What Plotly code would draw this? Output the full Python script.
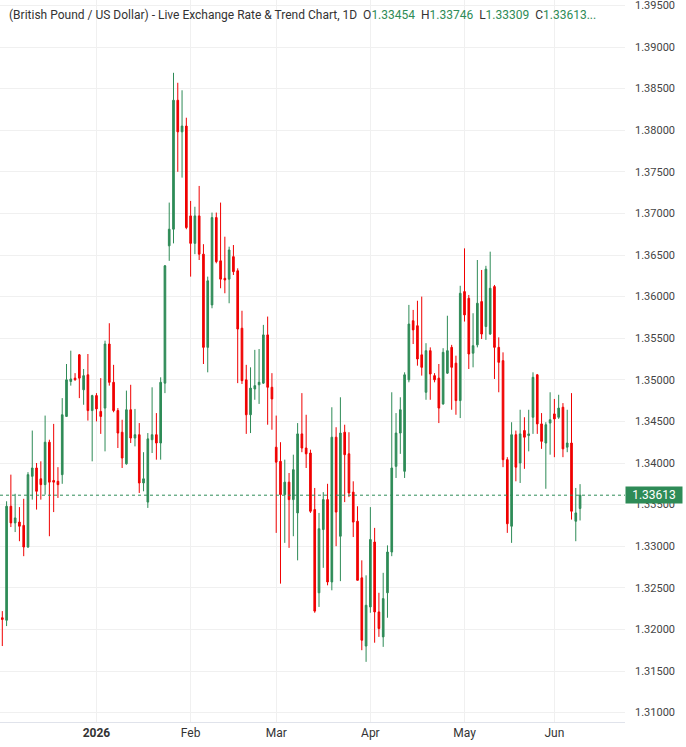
import pandas as pd
import plotly.graph_objects as go

# ---- data ----
dates = [d.strftime("%Y-%m-%d") for d in pd.bdate_range("2025-12-02", "2026-06-09")]

opens = [1.3214, 1.3211, 1.3348, 1.3328, 1.3329, 1.3325, 1.3299, 1.3384, 1.3394, 1.3381,
         1.3374, 1.3425, 1.3379, 1.3378, 1.3386, 1.3456, 1.3498, 1.3502, 1.3530, 1.3488,
         1.3506, 1.3463, 1.3481, 1.3462, 1.3466, 1.3543, 1.3497, 1.3463, 1.3437, 1.3399,
         1.3464, 1.3430, 1.3434, 1.3376, 1.3353, 1.3428, 1.3434, 1.3424, 1.3496, 1.3661,
         1.3681, 1.3836, 1.3798, 1.3805, 1.3697, 1.3664, 1.3697, 1.3651, 1.3539, 1.3590,
         1.3695, 1.3643, 1.3622, 1.3621, 1.3648, 1.3631, 1.3562, 1.3500, 1.3458, 1.3489,
         1.3494, 1.3496, 1.3554, 1.3491, 1.3419, 1.3402, 1.3362, 1.3377, 1.3356, 1.3340,
         1.3435, 1.3418, 1.3412, 1.3344, 1.3244, 1.3320, 1.3356, 1.3257, 1.3431, 1.3312,
         1.3437, 1.3411, 1.3365, 1.3330, 1.3262, 1.3180, 1.3227, 1.3305, 1.3221, 1.3191,
         1.3244, 1.3293, 1.3396, 1.3436, 1.3390, 1.3500, 1.3571, 1.3565, 1.3530, 1.3485,
         1.3535, 1.3505, 1.3502, 1.3471, 1.3508, 1.3539, 1.3520, 1.3475, 1.3606, 1.3598,
         1.3532, 1.3542, 1.3594, 1.3564, 1.3555, 1.3612, 1.3539, 1.3523, 1.3404, 1.3324,
         1.3434, 1.3400, 1.3439, 1.3433, 1.3455, 1.3506, 1.3447, 1.3424, 1.3448, 1.3459,
         1.3455, 1.3467, 1.3419, 1.3424, 1.3330, 1.33454]

highs = [1.3222, 1.3354, 1.3386, 1.3363, 1.3347, 1.3357, 1.3389, 1.3439, 1.3400, 1.3402,
         1.3457, 1.3428, 1.3447, 1.3395, 1.3478, 1.3519, 1.3535, 1.3508, 1.3531, 1.3513,
         1.3531, 1.3482, 1.3484, 1.3502, 1.3547, 1.3568, 1.3518, 1.3466, 1.3452, 1.3487,
         1.3494, 1.3465, 1.3448, 1.3413, 1.3436, 1.3491, 1.3460, 1.3503, 1.3638, 1.3713,
         1.3869, 1.3857, 1.3848, 1.3815, 1.3715, 1.3708, 1.3733, 1.3663, 1.3624, 1.3701,
         1.3701, 1.3713, 1.3672, 1.3660, 1.3662, 1.3634, 1.3583, 1.3518, 1.3515, 1.3536,
         1.3537, 1.3566, 1.3576, 1.3508, 1.3457, 1.3425, 1.3404, 1.3388, 1.3410, 1.3448,
         1.3484, 1.3458, 1.3416, 1.3370, 1.3340, 1.3365, 1.3375, 1.3467, 1.3443, 1.3479,
         1.3446, 1.3437, 1.3378, 1.3348, 1.3283, 1.3265, 1.3347, 1.3322, 1.3244, 1.3268,
         1.3301, 1.3485, 1.3460, 1.3479, 1.3509, 1.3590, 1.3584, 1.3595, 1.3600, 1.3544,
         1.3539, 1.3508, 1.3519, 1.3538, 1.3577, 1.3542, 1.3529, 1.3613, 1.3658, 1.3602,
         1.3580, 1.3644, 1.3632, 1.3637, 1.3654, 1.3614, 1.3551, 1.3533, 1.3407, 1.3449,
         1.3439, 1.3464, 1.3455, 1.3464, 1.3509, 1.3507, 1.3460, 1.3449, 1.3485, 1.3477,
         1.3482, 1.3472, 1.3464, 1.3484, 1.3370, 1.33746]

lows = [1.3180, 1.3204, 1.3323, 1.3317, 1.3306, 1.3288, 1.3298, 1.3356, 1.3344, 1.3356,
        1.3362, 1.3312, 1.3341, 1.3358, 1.3375, 1.3456, 1.3493, 1.3499, 1.3478, 1.3470,
        1.3451, 1.3402, 1.3450, 1.3435, 1.3414, 1.3493, 1.3461, 1.3418, 1.3394, 1.3398,
        1.3424, 1.3420, 1.3364, 1.3366, 1.3346, 1.3412, 1.3404, 1.3404, 1.3484, 1.3643,
        1.3664, 1.3750, 1.3743, 1.3681, 1.3624, 1.3651, 1.3644, 1.3519, 1.3509, 1.3586,
        1.3640, 1.3610, 1.3604, 1.3592, 1.3626, 1.3496, 1.3495, 1.3435, 1.3436, 1.3476,
        1.3471, 1.3495, 1.3446, 1.3440, 1.3316, 1.3255, 1.3304, 1.3298, 1.3312, 1.3283,
        1.3413, 1.3394, 1.3340, 1.3220, 1.3227, 1.3274, 1.3253, 1.3247, 1.3300, 1.3258,
        1.3353, 1.3359, 1.3311, 1.3259, 1.3175, 1.3161, 1.3220, 1.3184, 1.3191, 1.3179,
        1.3214, 1.3288, 1.3382, 1.3411, 1.3382, 1.3497, 1.3543, 1.3517, 1.3505, 1.3476,
        1.3476, 1.3497, 1.3448, 1.3470, 1.3507, 1.3464, 1.3458, 1.3454, 1.3570, 1.3513,
        1.3515, 1.3539, 1.3549, 1.3548, 1.3554, 1.3501, 1.3485, 1.3395, 1.3316, 1.3304,
        1.3378, 1.3376, 1.3393, 1.3414, 1.3435, 1.3435, 1.3417, 1.3369, 1.3410, 1.3407,
        1.3453, 1.3407, 1.3413, 1.3332, 1.3306, 1.33309]

closes = [1.3212, 1.3348, 1.3328, 1.3334, 1.3324, 1.3299, 1.3386, 1.3394, 1.3366, 1.3374,
          1.3425, 1.3377, 1.3377, 1.3374, 1.3458, 1.3500, 1.3501, 1.3500, 1.3502, 1.3505,
          1.3463, 1.3481, 1.3465, 1.3456, 1.3543, 1.3497, 1.3463, 1.3436, 1.3406, 1.3464,
          1.3430, 1.3434, 1.3376, 1.3381, 1.3429, 1.3434, 1.3424, 1.3497, 1.3637, 1.3681,
          1.3836, 1.3798, 1.3805, 1.3683, 1.3664, 1.3697, 1.3651, 1.3539, 1.3619, 1.3695,
          1.3642, 1.3621, 1.3620, 1.3656, 1.3630, 1.3561, 1.3499, 1.3458, 1.3490, 1.3493,
          1.3497, 1.3554, 1.3491, 1.3477, 1.3401, 1.3362, 1.3377, 1.3356, 1.3392, 1.3435,
          1.3418, 1.3411, 1.3342, 1.3222, 1.3321, 1.3356, 1.3257, 1.3431, 1.3341, 1.3436,
          1.3410, 1.3364, 1.3329, 1.3259, 1.3187, 1.3229, 1.3308, 1.3221, 1.3201, 1.3237,
          1.3293, 1.3394, 1.3436, 1.3464, 1.3506, 1.3567, 1.3560, 1.3525, 1.3515, 1.3535,
          1.3507, 1.3500, 1.3466, 1.3533, 1.3535, 1.3515, 1.3475, 1.3604, 1.3578, 1.3531,
          1.3541, 1.3592, 1.3555, 1.3633, 1.3610, 1.3539, 1.3521, 1.3404, 1.3327, 1.3434,
          1.3395, 1.3435, 1.3431, 1.3435, 1.3503, 1.3447, 1.3426, 1.3446, 1.3452, 1.3453,
          1.3466, 1.3417, 1.3424, 1.3342, 1.3340, 1.33613]

tick_dates = ["2026-01-01", "2026-02-02", "2026-03-02", "2026-04-01", "2026-05-01", "2026-06-01"]
tick_text = ["<b>2026</b>", "Feb", "Mar", "Apr", "May", "Jun"]
y_ticks = [1.310, 1.315, 1.320, 1.325, 1.330, 1.335, 1.340, 1.345, 1.350, 1.355,
           1.360, 1.365, 1.370, 1.375, 1.380, 1.385, 1.390, 1.395]

last_price = closes[-1]
GREEN = "#2e8b57"
RED = "#f00000"
FONT = "Roboto"

fig = go.Figure(go.Candlestick(
    x=dates, open=opens, high=highs, low=lows, close=closes,
    increasing=dict(line=dict(color=GREEN, width=1), fillcolor=GREEN),
    decreasing=dict(line=dict(color=RED, width=1), fillcolor=RED),
    whiskerwidth=0,
    showlegend=False,
))

fig.add_shape(type="line", xref="paper", x0=0, x1=1, yref="y", y0=last_price, y1=last_price,
              line=dict(color=GREEN, width=1, dash="dot"))

fig.add_annotation(xref="paper", x=1, xanchor="left", yref="y", y=last_price, yanchor="middle",
                   text=f"{last_price:.5f}", showarrow=False, bgcolor=GREEN,
                   font=dict(color="white", size=12, family=FONT), width=52, height=12, borderpad=2)

o, h, l, c = opens[-1], highs[-1], lows[-1], closes[-1]
g = f'<span style="color:{GREEN}">'
header = ("(British Pound / US Dollar) - Live Exchange Rate &amp; Trend Chart, 1D&nbsp;&nbsp;"
          f"O{g}{o:.5f}</span>&nbsp;&nbsp;H{g}{h:.5f}</span>&nbsp;&nbsp;"
          f"L{g}{l:.5f}</span>&nbsp;&nbsp;C{g}{c:.5f}...</span>")
fig.add_annotation(xref="paper", x=0, xanchor="left", xshift=7, yref="paper", y=1, yanchor="middle",
                   yshift=-15, text=header, showarrow=False, align="left",
                   font=dict(color="#333333", size=12, family=FONT))

fig.update_layout(
    width=686, height=747,
    margin=dict(l=0, r=61, t=0, b=25),
    paper_bgcolor="white", plot_bgcolor="white",
    boxgap=0.45,
    font=dict(family=FONT, color="#333333"),
    xaxis=dict(type="category", range=[-0.54, 145.5], rangeslider=dict(visible=False),
               tickmode="array", tickvals=tick_dates, ticktext=tick_text,
               showgrid=True, gridcolor="#f0f0f0", gridwidth=1,
               showline=True, linecolor="#e0e3eb", linewidth=1, mirror=False,
               ticks="", tickfont=dict(size=12, color="#333333", family=FONT)),
    yaxis=dict(side="right", range=[1.30887, 1.39565], tickmode="array", tickvals=y_ticks,
               ticktext=[f"{v:.5f}" for v in y_ticks], ticklabeloverflow="allow",
               showgrid=True, gridcolor="#f0f0f0", gridwidth=1, zeroline=False,
               ticks="", ticklabelstandoff=9, tickfont=dict(size=11, color="#444444", family=FONT)),
    hovermode=False,
)

fig.write_html("out.html")
